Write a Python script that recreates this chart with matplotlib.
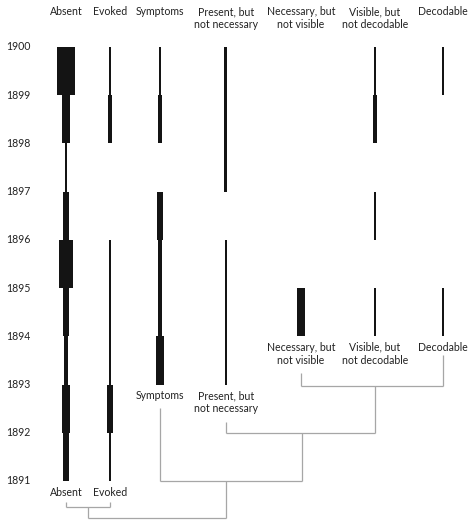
import matplotlib
matplotlib.use("Agg")
import matplotlib.pyplot as plt

plt.rcParams['font.family'] = ['Lato', 'DejaVu Sans']

# ---- data ----
categories = ["Absent", "Evoked", "Symptoms", "Present, but\nnot necessary",
              "Necessary, but\nnot visible", "Visible, but\nnot decodable", "Decodable"]
years = [1900, 1899, 1898, 1897, 1896, 1895, 1894, 1893, 1892, 1891]
# thickness of each column for the intervals 1900-1899, 1899-1898, ..., 1892-1891 (0 = absent)
absent    = [18.3, 8.7, 2.3, 6.0, 14.0, 5.8, 3.7, 7.7, 5.7]
evoked    = [2.0, 4.7, 0, 0, 2.0, 1.7, 1.3, 6.7, 2.7]
symptoms  = [1.5, 3.3, 0, 5.3, 3.3, 3.3, 7.3, 0, 0]
present   = [3.0, 3.0, 3.0, 0, 1.6, 1.6, 1.6, 0, 0]
necessary = [0, 0, 0, 0, 0, 7.3, 0, 0, 0]
visible   = [1.6, 4.7, 0, 1.4, 0, 1.4, 0, 0, 0]
decodable = [1.4, 0, 0, 0, 0, 1.4, 0, 0, 0]
series = [absent, evoked, symptoms, present, necessary, visible, decodable]

# ---- layout ----
W, H = 474, 526
col_x = [66, 110, 160, 226, 301, 375, 443]
y_top_px, y_bot_px = 47, 481
ppy = (y_bot_px - y_top_px) / (years[0] - years[-1])

def ypx(p):
    return years[0] - (p - y_top_px) / ppy

fig = plt.figure(figsize=(W / 100, H / 100), dpi=100)
ax = fig.add_axes([0, 0, 1, 1])
ax.set_xlim(0, W)
ax.set_ylim(ypx(H), ypx(0))
ax.axis('off')

bar_color = '#141414'
txt_color = '#222222'
fs = 7.6

for xc, vals in zip(col_x, series):
    for i, w in enumerate(vals):
        if w > 0:
            ax.bar(xc, 1.0, bottom=years[i + 1], width=w, color=bar_color,
                   linewidth=0, align='center')

# year labels
for y in years:
    ax.text(6, y, str(y), ha='left', va='center', fontsize=fs, color=txt_color)

# header labels
for xc, lab in zip(col_x, categories):
    ax.text(xc, ypx(6), lab, ha='center', va='top', fontsize=fs,
            color=txt_color, linespacing=1.25)

# bottom labels just below the last segment of each column
for xc, lab, vals in zip(col_x, categories, series):
    last = max(i for i, v in enumerate(vals) if v > 0)
    end_year = years[last + 1]
    ax.text(xc, end_year - 5.5 / ppy, lab, ha='center', va='top', fontsize=fs,
            color=txt_color, linespacing=1.25)

# dendrogram (pixel coordinates)
g = '#a6a6a6'
lw = 0.9
segs = [
    # Necessary / Visible / Decodable
    ((301, 373), (301, 386)), ((443, 355), (443, 386)), ((301, 386), (443, 386)),
    ((375, 386), (375, 433)),
    # + Present
    ((226, 422), (226, 433)), ((226, 433), (375, 433)), ((302, 433), (302, 481)),
    # + Symptoms
    ((160, 408), (160, 481)), ((160, 481), (302, 481)), ((226, 481), (226, 518)),
    # Absent / Evoked
    ((66, 502), (66, 507)), ((110, 502), (110, 507)), ((66, 507), (110, 507)),
    ((88, 507), (88, 518)), ((88, 518), (226, 518)),
]
for (x0, y0), (x1, y1) in segs:
    ax.plot([x0, x1], [ypx(y0), ypx(y1)], color=g, lw=lw, solid_capstyle='butt')

fig.savefig('out.png', dpi=100)
